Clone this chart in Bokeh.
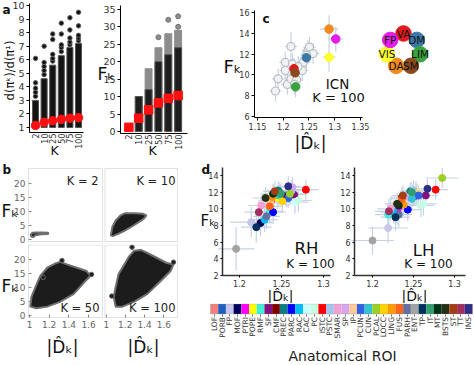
import math
from bokeh.plotting import figure
from bokeh.models import ColumnDataSource, FixedTicker, Label, Range1d, BoxAnnotation
from bokeh.layouts import row, column
from bokeh.embed import file_html
from bokeh.resources import INLINE
from bokeh.core.properties import value

FONT = "DejaVu Sans"

# ---------------- panel a data ----------------
K_LABELS = ["2", "10", "25", "50", "75", "100"]
a1_min = [1.0, 1.0, 1.0, 1.0, 1.0, 1.0]
a1_dense_top = [3.0, 4.6, 5.6, 6.3, 6.9, 7.2]
a1_sparse = [[3.3, 3.6, 3.9, 4.3, 6.1],
             [4.9, 5.2, 5.5, 5.8, 7.0],
             [5.9, 6.1, 6.4, 7.5, 7.9],
             [6.6, 6.9, 7.1, 7.9, 8.7],
             [7.1, 7.3, 7.6, 8.2, 9.1],
             [7.4, 7.6, 7.8, 8.5, 9.5]]
a1_median = [1.15, 1.38, 1.5, 1.6, 1.68, 1.72]

a2_dense_top = [2, 10, 12, 20, 22, 24]
a2_gray_top = [2, 10, 18, 24, 28, 29]
a2_outliers = [[], [], [], [27], [32], [30, 33]]
a2_median = [1.2, 3.8, 6.2, 8.2, 9.5, 10.3]

# ---------------- panel c data ----------------
NET_COLORS = {"VA": "#e0191c", "DM": "#3b78a6", "LIM": "#3aa33e", "SM": "#8b4a1e",
              "DA": "#f28a1e", "VIS": "#ffff2e", "FP": "#e41ee4"}
RING_ORDER = ["VA", "DM", "LIM", "SM", "DA", "VIS", "FP"]
c_names = ["DA", "FP", "VIS", "DM", "VA", "SM", "LIM"]
c_x = [1.289, 1.302, 1.289, 1.245, 1.221, 1.223, 1.224]
c_y = [14.4, 13.45, 11.7, 11.65, 10.6, 10.2, 8.85]
c_xerr = [0.018, 0.015, 0.012, 0.012, 0.010, 0.010, 0.010]
c_yerr = [1.3, 1.2, 1.4, 1.0, 1.0, 1.0, 1.0]
g_x = [1.185, 1.190, 1.208, 1.204, 1.204, 1.215, 1.218, 1.215, 1.226, 1.237, 1.239,
       1.248, 1.251, 1.258, 1.222, 1.245, 1.229]
g_y = [8.45, 9.62, 9.08, 10.42, 11.2, 12.73, 11.05, 9.62, 9.53, 10.42, 11.2,
       12.35, 12.67, 12.05, 9.1, 11.9, 10.8]
g_xerr = [0.012, 0.012, 0.012, 0.012, 0.012, 0.012, 0.012, 0.012, 0.012, 0.012, 0.012,
          0.012, 0.012, 0.012, 0.012, 0.012, 0.012]
g_yerr = [1.0, 1.0, 1.0, 1.0, 1.0, 1.4, 1.0, 1.0, 1.0, 1.0, 1.0, 1.0, 1.0, 1.0, 1.0, 1.0, 1.0]

# ---------------- panel b data (cloud outlines) ----------------
b2_x = [1.02, 1.01, 1.03, 1.07, 1.12, 1.19, 1.19, 1.12, 1.06, 1.04]
b2_y = [1.0, 1.7, 2.4, 2.5, 2.5, 2.4, 2.0, 1.9, 1.5, 0.9]
b10_x = [1.05, 1.066, 1.10, 1.15, 1.20, 1.29, 1.38, 1.42, 1.39, 1.29, 1.19, 1.12, 1.07]
b10_y = [1.5, 4.5, 6.8, 8.6, 9.4, 9.4, 9.2, 8.6, 7.4, 5.1, 3.1, 1.9, 1.2]
b50_x = [1.007, 1.02, 1.06, 1.11, 1.18, 1.26, 1.31, 1.38, 1.48, 1.58, 1.62, 1.57, 1.45, 1.31, 1.18, 1.07]
b50_y = [3.2, 6.7, 10.2, 14.3, 17.2, 18.7, 19.3, 18.4, 17.2, 16.0, 14.3, 12.5, 7.8, 4.9, 3.2, 2.6]
b50_out_x = [1.14, 1.63, 1.33]
b50_out_y = [13.7, 14.8, 19.8]
b100_x = [1.10, 1.08, 1.10, 1.13, 1.19, 1.24, 1.29, 1.36, 1.43, 1.53, 1.63, 1.70, 1.67, 1.57, 1.43, 1.29, 1.17]
b100_y = [3.2, 6.7, 10.2, 14.9, 18.4, 21.3, 23.3, 23.6, 22.5, 20.7, 18.9, 18.4, 16.0, 12.5, 7.8, 4.9, 3.2]
b100_out_x = [1.06, 1.27, 1.70]
b100_out_y = [7.0, 24.6, 19.2]

# ---------------- panel d data ----------------
ROI_NAMES = ["LOF", "PORB", "FP", "MOF", "PTRI", "POPE", "RMF", "SF", "CMF", "PREC", "PARC",
             "RAC", "CAC", "PC", "ISTC", "PSTC", "SMAR", "SP", "IP", "PCUN", "CUN", "PCAL",
             "LOCC", "LING", "FUS", "PARH", "ENT", "TP", "IT", "MT", "BSTS", "ST", "TT", "INS"]
ROI_COLORS = ["#f47f7f", "#1f60bf", "#c6c6ea", "#00005e", "#ff00ff", "#ffff00", "#40eedc",
              "#82107f", "#7e0000", "#0a807e", "#0000ff", "#00bff0", "#cdfefe", "#c6fde0",
              "#ff0000", "#a3c4ef", "#f2a2d2", "#d6a6f0", "#ffc896", "#2f62e2", "#31c3d3",
              "#9ccf24", "#ffd200", "#ff9a00", "#ff6418", "#6370a2", "#a3a3a3", "#00305e",
              "#2e9e6e", "#003016", "#243014", "#a33e12", "#a22e60", "#2e2e88"]
rh_x = [1.248, 1.255, 1.214, 1.225, 1.238, 1.245, 1.236, 1.265, 1.256, 1.246, 1.240, 1.230,
        1.266, 1.270, 1.279, 1.262, 1.226, 1.263, 1.237, 1.258, 1.247, 1.260, 1.251, 1.239,
        1.236, 1.232, 1.196, 1.220, 1.249, 1.240, 1.231, 1.242, 1.223, 1.258]
rh_y = [12.0, 11.6, 8.4, 8.3, 11.0, 11.3, 9.7, 11.7, 11.4, 12.2, 9.6, 8.7, 10.8, 11.0, 12.3,
        12.2, 10.4, 12.6, 10.7, 11.3, 11.6, 11.8, 10.9, 11.4, 10.3, 9.1, 5.2, 7.8, 11.8,
        11.8, 11.3, 12.1, 9.6, 12.7]
rh_xerr = [0.014, 0.014, 0.025, 0.016, 0.014, 0.014, 0.016, 0.014, 0.014, 0.013, 0.015, 0.016,
           0.016, 0.016, 0.015, 0.015, 0.016, 0.014, 0.014, 0.014, 0.014, 0.016, 0.014, 0.014,
           0.015, 0.016, 0.022, 0.018, 0.014, 0.014, 0.015, 0.014, 0.017, 0.014]
rh_yerr = [1.2, 1.2, 1.8, 1.6, 1.3, 1.3, 1.4, 1.2, 1.2, 1.1, 1.4, 1.5, 1.4, 1.4, 1.2, 1.2, 1.4,
           1.2, 1.2, 1.2, 1.2, 1.4, 1.3, 1.3, 1.3, 1.5, 2.6, 1.8, 1.2, 1.2, 1.3, 1.2, 1.5, 1.2]
lh_x = [1.250, 1.251, 1.219, 1.230, 1.232, 1.253, 1.219, 1.265, 1.236, 1.246, 1.243, 1.226,
        1.262, 1.259, 1.277, 1.250, 1.222, 1.244, 1.254, 1.256, 1.248, 1.285, 1.236, 1.238,
        1.236, 1.232, 1.200, 1.228, 1.248, 1.232, 1.230, 1.237, 1.220, 1.267]
lh_y = [11.8, 11.5, 7.7, 9.6, 10.2, 12.0, 9.3, 11.6, 11.4, 12.1, 9.9, 9.6, 10.6, 10.4, 12.3,
        12.2, 10.0, 11.4, 11.8, 11.6, 11.2, 13.7, 10.7, 10.5, 11.2, 9.3, 6.2, 9.0, 12.0, 10.4,
        10.6, 11.6, 9.7, 12.4]
lh_xerr = [0.014, 0.014, 0.024, 0.016, 0.014, 0.014, 0.016, 0.014, 0.014, 0.013, 0.015, 0.016,
           0.016, 0.016, 0.015, 0.015, 0.016, 0.014, 0.014, 0.014, 0.014, 0.020, 0.014, 0.014,
           0.015, 0.016, 0.026, 0.018, 0.014, 0.014, 0.015, 0.014, 0.017, 0.014]
lh_yerr = [1.2, 1.2, 1.8, 1.5, 1.3, 1.3, 1.4, 1.2, 1.2, 1.1, 1.4, 1.4, 1.4, 1.4, 1.2, 1.2, 1.4,
           1.2, 1.2, 1.2, 1.2, 1.2, 1.3, 1.3, 1.3, 1.5, 1.7, 1.7, 1.2, 1.2, 1.3, 1.2, 1.5, 1.2]

ERR_COLOR = "#c7d2e4"


# ---------------- helpers (layout in page pixels) ----------------
def panel(canvas, xd, xp, yd, yp):
    """canvas=(left,right,top,bottom) page px; data xd=(lo,hi) sits at page xp=(px_lo,px_hi);
    yd=(lo,hi) sits at page yp=(py_lo,py_hi) (py_lo is the lower, larger pixel)."""
    cl, cr, ct, cb = canvas
    sx = (xd[1] - xd[0]) / (xp[1] - xp[0])
    sy = (yd[1] - yd[0]) / (yp[0] - yp[1])
    xr = Range1d(xd[0] + (cl - xp[0]) * sx, xd[0] + (cr - xp[0]) * sx)
    yr = Range1d(yd[0] - (cb - yp[0]) * sy, yd[0] + (yp[0] - ct) * sy)
    p = figure(width=cr - cl, height=cb - ct, x_range=xr, y_range=yr, output_backend="svg",
               toolbar_location=None, min_border=0, min_border_left=0, min_border_right=0,
               min_border_top=0, min_border_bottom=0)
    p.outline_line_color = None
    p.grid.visible = False
    p.background_fill_color = "white"
    p.border_fill_color = "white"
    p.xaxis.fixed_location = yd[0]
    p.xaxis.bounds = xd
    p.yaxis.fixed_location = xd[0]
    p.yaxis.bounds = yd
    for ax in p.axis:
        ax.major_label_text_font = FONT
        ax.major_label_text_font_size = "8px"
        ax.major_label_text_color = "#333333"
        ax.minor_tick_line_color = None
        ax.major_tick_out = 3
        ax.major_tick_in = 0
        ax.major_label_standoff = 2
        ax.axis_line_color = "black"
        ax.major_tick_line_color = "black"
    p._canvas = canvas
    return p


def lab(p, page_x, page_y, text, size, align="left", baseline="middle", bold=False,
        color="#111111", angle=0.0):
    cl, cr, ct, cb = p._canvas
    p.add_layout(Label(x=page_x - cl, y=cb - page_y, x_units="screen", y_units="screen",
                       text=text, text_font=FONT, text_font_size=size, text_align=align,
                       text_baseline=baseline, text_color=color, angle=angle,
                       text_font_style="bold" if bold else "normal"))


def err_bars(p, xs, ys, xe, ye):
    src = ColumnDataSource(dict(
        x=xs, y=ys,
        x0=[a - e for a, e in zip(xs, xe)], x1=[a + e for a, e in zip(xs, xe)],
        y0=[a - e for a, e in zip(ys, ye)], y1=[a + e for a, e in zip(ys, ye)]))
    p.segment(x0="x0", x1="x1", y0="y", y1="y", source=src, line_color=ERR_COLOR, line_width=1.2)
    p.segment(x0="x", x1="x", y0="y0", y1="y1", source=src, line_color=ERR_COLOR, line_width=1.2)


K_POS = list(range(len(K_LABELS)))
K_OVR = {i: k for i, k in zip(K_POS, K_LABELS)}

# ======== panel a1 ========
a1 = panel((0, 96, 0, 160), (-0.7, 5.58), (29, 83), (0.63, 10.15), (132, 3))
a1.vbar(x=K_POS, bottom=a1_min, top=a1_dense_top, width=0.7, fill_color="#141414",
        line_color="#555555")
sx, sy = [], []
for i, vals in zip(K_POS, a1_sparse):
    for v in vals:
        sx.append(i)
        sy.append(v)
a1.scatter(x=sx, y=sy, size=4.5, fill_color="#111111", line_color="#666666")
a1.scatter(x=K_POS, y=a1_median, size=8.5, color="#ff1010")
a1.yaxis.ticker = FixedTicker(ticks=[1, 2, 3, 4, 5, 6, 7, 8, 9, 10])
a1.yaxis.major_label_text_font_size = "9.5px"
a1.xaxis.ticker = FixedTicker(ticks=K_POS)
a1.xaxis.major_label_overrides = K_OVR
a1.xaxis.major_label_orientation = math.pi / 2
a1.xaxis.major_label_text_font_size = "8px"
a1.xaxis.major_tick_out = 0
a1.xaxis.major_label_standoff = 1
lab(a1, 9, 70, "d(πᵏ)/d(π¹)", "11.5px", align="center", angle=math.pi / 2)
lab(a1, 54, 150, "K", "12.5px", align="center")
lab(a1, 2, 2, "a", "12px", baseline="top", bold=True)

# ======== panel a2 ========
a2 = panel((96, 200, 0, 160), (-0.85, 5.95), (120, 187), (-0.57, 36.1), (133, 5))
a2.vbar(x=K_POS, bottom=0, top=a2_gray_top, width=0.7, fill_color="#8c8c8c", line_color="#8c8c8c")
a2.vbar(x=K_POS, bottom=0, top=a2_dense_top, width=0.7, fill_color="#1e1e1e", line_color="#555555")
ox, oy = [], []
for i, vals in zip(K_POS, a2_outliers):
    for v in vals:
        ox.append(i)
        oy.append(v)
a2.scatter(x=ox, y=oy, size=5, fill_color="#8c8c8c", line_color="#777777")
a2.scatter(x=K_POS, y=a2_median, size=8.5, marker="square", color="#ff1010")
a2.yaxis.ticker = FixedTicker(ticks=[0, 5, 10, 15, 20, 25, 30, 35])
a2.yaxis.major_label_text_font_size = "9.5px"
a2.xaxis.ticker = FixedTicker(ticks=K_POS)
a2.xaxis.major_label_overrides = K_OVR
a2.xaxis.major_label_orientation = math.pi / 2
a2.xaxis.major_label_text_font_size = "8px"
a2.xaxis.major_tick_out = 0
a2.xaxis.major_label_standoff = 1
lab(a2, 152, 150, "K", "12.5px", align="center")
lab(a2, 97, 73, "Fₖ", "17px")

# ======== panel c ========
c = panel((200, 372, 0, 160), (1.1442, 1.3539), (254, 362), (5.904, 16.19), (117, 10))
err_bars(c, g_x, g_y, g_xerr, g_yerr)
err_bars(c, c_x, c_y, c_xerr, c_yerr)
c.scatter(x=g_x, y=g_y, size=8, fill_color="#f2f2f2", line_color="#b4bcc6", line_width=1.2)
c.scatter(x=c_x, y=c_y, size=8.5, color=[NET_COLORS[n] for n in c_names])
c.xaxis.ticker = FixedTicker(ticks=[1.15, 1.2, 1.25, 1.3, 1.35])
c.xaxis.major_label_overrides = {1.15: "1.15", 1.2: "1.2", 1.25: "1.25", 1.3: "1.3", 1.35: "1.35"}
c.yaxis.ticker = FixedTicker(ticks=[6, 8, 10, 12, 14, 16])
lab(c, 310, 142, "|D̂ₖ|", "17px", align="center")
lab(c, 223, 66, "Fₖ", "18px")
lab(c, 337, 83, "ICN", "13.5px", align="center")
lab(c, 338, 97, "K = 100", "13px", align="center")
lab(c, 262, 11, "c", "12px", baseline="top", bold=True)

# ======== ring legend ========
leg = panel((372, 474, 0, 160), (0, 102), (372, 474), (0, 160), (160, 0))
leg.axis.visible = False
cx0, cy0, rad = 31, 110, 17
ang = [math.radians(90 - i * 360 / len(RING_ORDER)) for i in range(len(RING_ORDER))]
rx = [cx0 + rad * math.cos(a) for a in ang]
ry = [cy0 + rad * math.sin(a) for a in ang]
leg.scatter(x=rx, y=ry, size=15.5, color=[NET_COLORS[n] for n in RING_ORDER])
leg.text(x=rx, y=ry, text=RING_ORDER, text_align="center", text_baseline="middle",
         text_font_size="10.5px", text_color="#111111", text_font=value(FONT))

# ======== panel b ========
BXD = (0.9895, 1.742)
BYD = (-0.71, 25.38)


def bpanel(canvas, xp, yp, px, py, show_x, show_y, ox=None, oy=None):
    p = panel(canvas, BXD, xp, BYD, yp)
    p.add_layout(BoxAnnotation(left=BXD[0], right=BXD[1], bottom=BYD[0], top=BYD[1],
                               fill_alpha=0, line_color="#9a9a9a", line_width=1))
    p.patch(px, py, fill_color="#1c1c1c", line_color="#6e6e6e", line_width=2)
    if ox:
        p.scatter(x=ox, y=oy, size=4.5, fill_color="#1c1c1c", line_color="#666666")
    for ax in p.axis:
        ax.axis_line_color = None
        ax.major_tick_out = 0
        ax.major_tick_in = 3
        ax.major_tick_line_color = "#888888"
        ax.major_label_text_color = "#666666"
        ax.major_label_text_font_size = "9px"
        ax.major_label_standoff = 3
    p.xaxis.ticker = FixedTicker(ticks=[1, 1.2, 1.4, 1.6])
    p.xaxis.major_label_overrides = {1: "1", 1.2: "1.2", 1.4: "1.4", 1.6: "1.6"}
    p.yaxis.ticker = FixedTicker(ticks=[0, 5, 10, 15, 20])
    p.xaxis.visible = show_x
    p.yaxis.visible = show_y
    return p


b1 = bpanel((0, 103, 160, 244), (28, 102), (241, 168), b2_x, b2_y, False, True)
b2 = bpanel((103, 200, 160, 244), (104.5, 177), (241, 168), b10_x, b10_y, False, False)
b3 = bpanel((0, 103, 244, 365), (28, 102), (317, 244.5), b50_x, b50_y, True, True,
            b50_out_x, b50_out_y)
b4 = bpanel((103, 200, 244, 365), (104.5, 177), (317, 244.5), b100_x, b100_y, True, False,
            b100_out_x, b100_out_y)
lab(b1, 98, 173, "K = 2", "11.5px", align="right", baseline="top", color="#222222")
lab(b2, 175, 173, "K = 10", "11.5px", align="right", baseline="top", color="#222222")
lab(b3, 99, 314, "K = 50", "11.5px", align="right", baseline="bottom", color="#222222")
lab(b4, 175, 314, "K = 100", "11.5px", align="right", baseline="bottom", color="#222222")
lab(b1, 1, 210, "Fₖ", "17px")
lab(b3, 1, 285, "Fₖ", "17px")
lab(b3, 62, 346, "|D̂ₖ|", "17px", align="center")
lab(b4, 143, 346, "|D̂ₖ|", "17px", align="center")
lab(b1, 2, 162, "b", "12px", baseline="top", bold=True)


# ======== panel d ========
def dpanel(canvas, xd, xp, xs, ys, xe, ye):
    p = panel(canvas, xd, xp, (2, 14.96), (275, 167))
    err_bars(p, xs, ys, xe, ye)
    p.scatter(x=xs, y=ys, size=7, color=ROI_COLORS)
    p.xaxis.ticker = FixedTicker(ticks=[1.2, 1.25, 1.3])
    p.xaxis.major_label_overrides = {1.2: "1.2", 1.25: "1.25", 1.3: "1.3"}
    p.yaxis.ticker = FixedTicker(ticks=[2, 4, 6, 8, 10, 12, 14])
    for ax in p.axis:
        ax.axis_line_width = 1.5
        ax.axis_line_color = "#333333"
        ax.major_tick_out = 2
    return p


dRH = dpanel((200, 338, 160, 303), (1.1798, 1.3083), (222, 330), rh_x, rh_y, rh_xerr, rh_yerr)
dLH = dpanel((338, 474, 160, 303), (1.178, 1.3134), (354, 465), lh_x, lh_y, lh_xerr, lh_yerr)
lab(dRH, 306, 248, "RH", "16.5px", align="center")
lab(dRH, 310, 263, "K = 100", "12px", align="center")
lab(dLH, 423, 250, "LH", "16.5px", align="center")
lab(dLH, 428, 263, "K = 100", "12px", align="center")
lab(dRH, 280, 295, "|D̂ₖ|", "14px", align="center")
lab(dLH, 414, 295, "|D̂ₖ|", "14px", align="center")
lab(dRH, 200, 220, "Fₖ", "15px")
lab(dRH, 201, 162, "d", "12px", baseline="top", bold=True)

# colour strip of anatomical ROIs
ROI_POS = list(range(len(ROI_NAMES)))
cbar = panel((200, 474, 303, 365), (-0.5, len(ROI_NAMES) - 0.5), (210, 472), (0, 1), (313.5, 303.5))
cbar.rect(x=ROI_POS, y=0.5, width=1, height=1, fill_color=ROI_COLORS, line_color=None)
cbar.add_layout(BoxAnnotation(left=-0.5, right=len(ROI_NAMES) - 0.5, bottom=0, top=1,
                              fill_alpha=0, line_color="#8a8a8a", line_width=1))
cbar.yaxis.visible = False
cbar.xaxis.axis_line_color = None
cbar.xaxis.ticker = FixedTicker(ticks=ROI_POS)
cbar.xaxis.major_label_overrides = {i: n for i, n in zip(ROI_POS, ROI_NAMES)}
cbar.xaxis.major_tick_out = 2
cbar.xaxis.major_tick_line_color = "#666666"
cbar.xaxis.major_label_orientation = math.pi / 2
cbar.xaxis.major_label_text_font_size = "7.5px"
cbar.xaxis.major_label_standoff = 1
lab(cbar, 342, 355, "Anatomical ROI", "14px", align="center", color="#222222")

top = row(a1, a2, c, leg)
bottom = row(column(row(b1, b2), row(b3, b4)), column(row(dRH, dLH), cbar))
page = column(top, bottom)

open("out.html", "w").write(file_html(page, INLINE))
